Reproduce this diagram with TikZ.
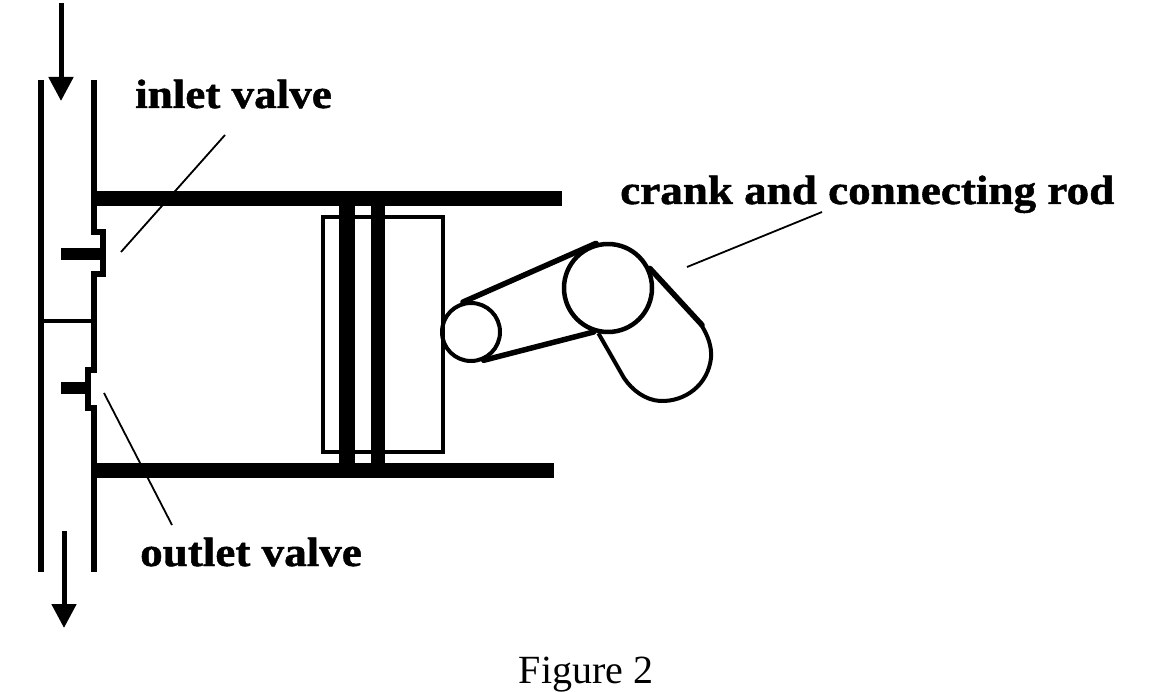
\documentclass[tikz,border=0pt]{standalone}
\usepackage{fontspec}
\setmainfont{Liberation Serif}
\newfontfamily\labfont[FakeStretch=1.1,BoldFeatures={FakeBold=1.2}]{Liberation Serif}
\usetikzlibrary{arrows.meta}
\tikzset{
  wall/.style={black,line width=6pt,line join=miter},
  cyl/.style={black,line width=15pt},
  stem/.style={black,line width=12pt},
  flow/.style={black,line width=5pt,-{Triangle[length=24pt,width=24pt]}},
  rodline/.style={black,line width=5.5pt,line cap=round},
  leader/.style={black,line width=1.8pt},
  lab/.style={inner sep=0pt,anchor=base west,font=\labfont\bfseries\fontsize{41}{41}\selectfont},
}
\begin{document}
\begin{tikzpicture}[x=1pt,y=-1pt,>=latex,line join=bevel,]
\useasboundingbox (0,0) rectangle (1173,692);
%%
\node (node_inlet) at (135,108) [lab] {inlet valve};
\node (node_outlet) at (140,566) [lab] {outlet valve};
\node (node_crank) at (620,204) [lab] {crank and connecting rod};
\node (node_fig) at (586,683) [inner sep=0pt,anchor=base,font=\fontsize{40}{40}\selectfont] {Figure 2};
%
\coordinate (in_a) at (121,252);
\coordinate (in_b) at (225,135);
\coordinate (out_a) at (104,393);
\coordinate (out_b) at (172,525);
\coordinate (cr_a) at (687,267);
\coordinate (cr_b) at (822,212);
\draw [leader] (in_a) -- (in_b);
\draw [leader] (out_a) -- (out_b);
\draw [leader] (cr_a) -- (cr_b);
%
\coordinate (top_a) at (61,3);
\coordinate (top_b) at (61,101);
\coordinate (bot_a) at (64,531);
\coordinate (bot_b) at (64,628);
\draw [flow] (top_a) -- (top_b);
\draw [flow] (bot_a) -- (bot_b);
%
\draw [wall] (41,80) -- (41,572);
\draw [wall] (94,80) -- (94,232) -- (103,232) -- (103,274) -- (94,274) -- (94,370) -- (88,370) -- (88,408) -- (94,408) -- (94,572);
\draw [black,line width=4pt] (41,321) -- (94,321);
\draw [stem] (61,254) -- (100,254);
\draw [stem] (61,388) -- (88,388);
\draw [cyl] (94,199) -- (562,199);
\draw [cyl] (94,470) -- (554,470);
%
\draw [black,line width=4.5pt,line join=miter] (323,217) rectangle (443,452);
\draw [black,line width=16pt] (347,204) -- (347,465);
\draw [black,line width=14pt] (378,204) -- (378,465);
%
\node (node_small) at (471,332) [circle,draw=black,line width=4pt,minimum size=58pt,inner sep=0pt] {};
\node (node_big) at (608,288) [circle,draw=black,line width=4.5pt,minimum size=88pt,inner sep=0pt] {};
\draw [rodline] (node_small.105) -- (node_big.105);
\draw [rodline] (node_small.-66) -- (node_big.-108);
\draw [rodline] (node_big.25) -- (702,325);
\draw [black,line width=4pt] (700,323) .. controls (708,335) and (712,347) .. (711,358)
  .. controls (708,385) and (685,402) .. (660,401) .. controls (645,400) and (632,390) .. (624,378) -- (node_big.-102);
%
\end{tikzpicture}
\end{document}
